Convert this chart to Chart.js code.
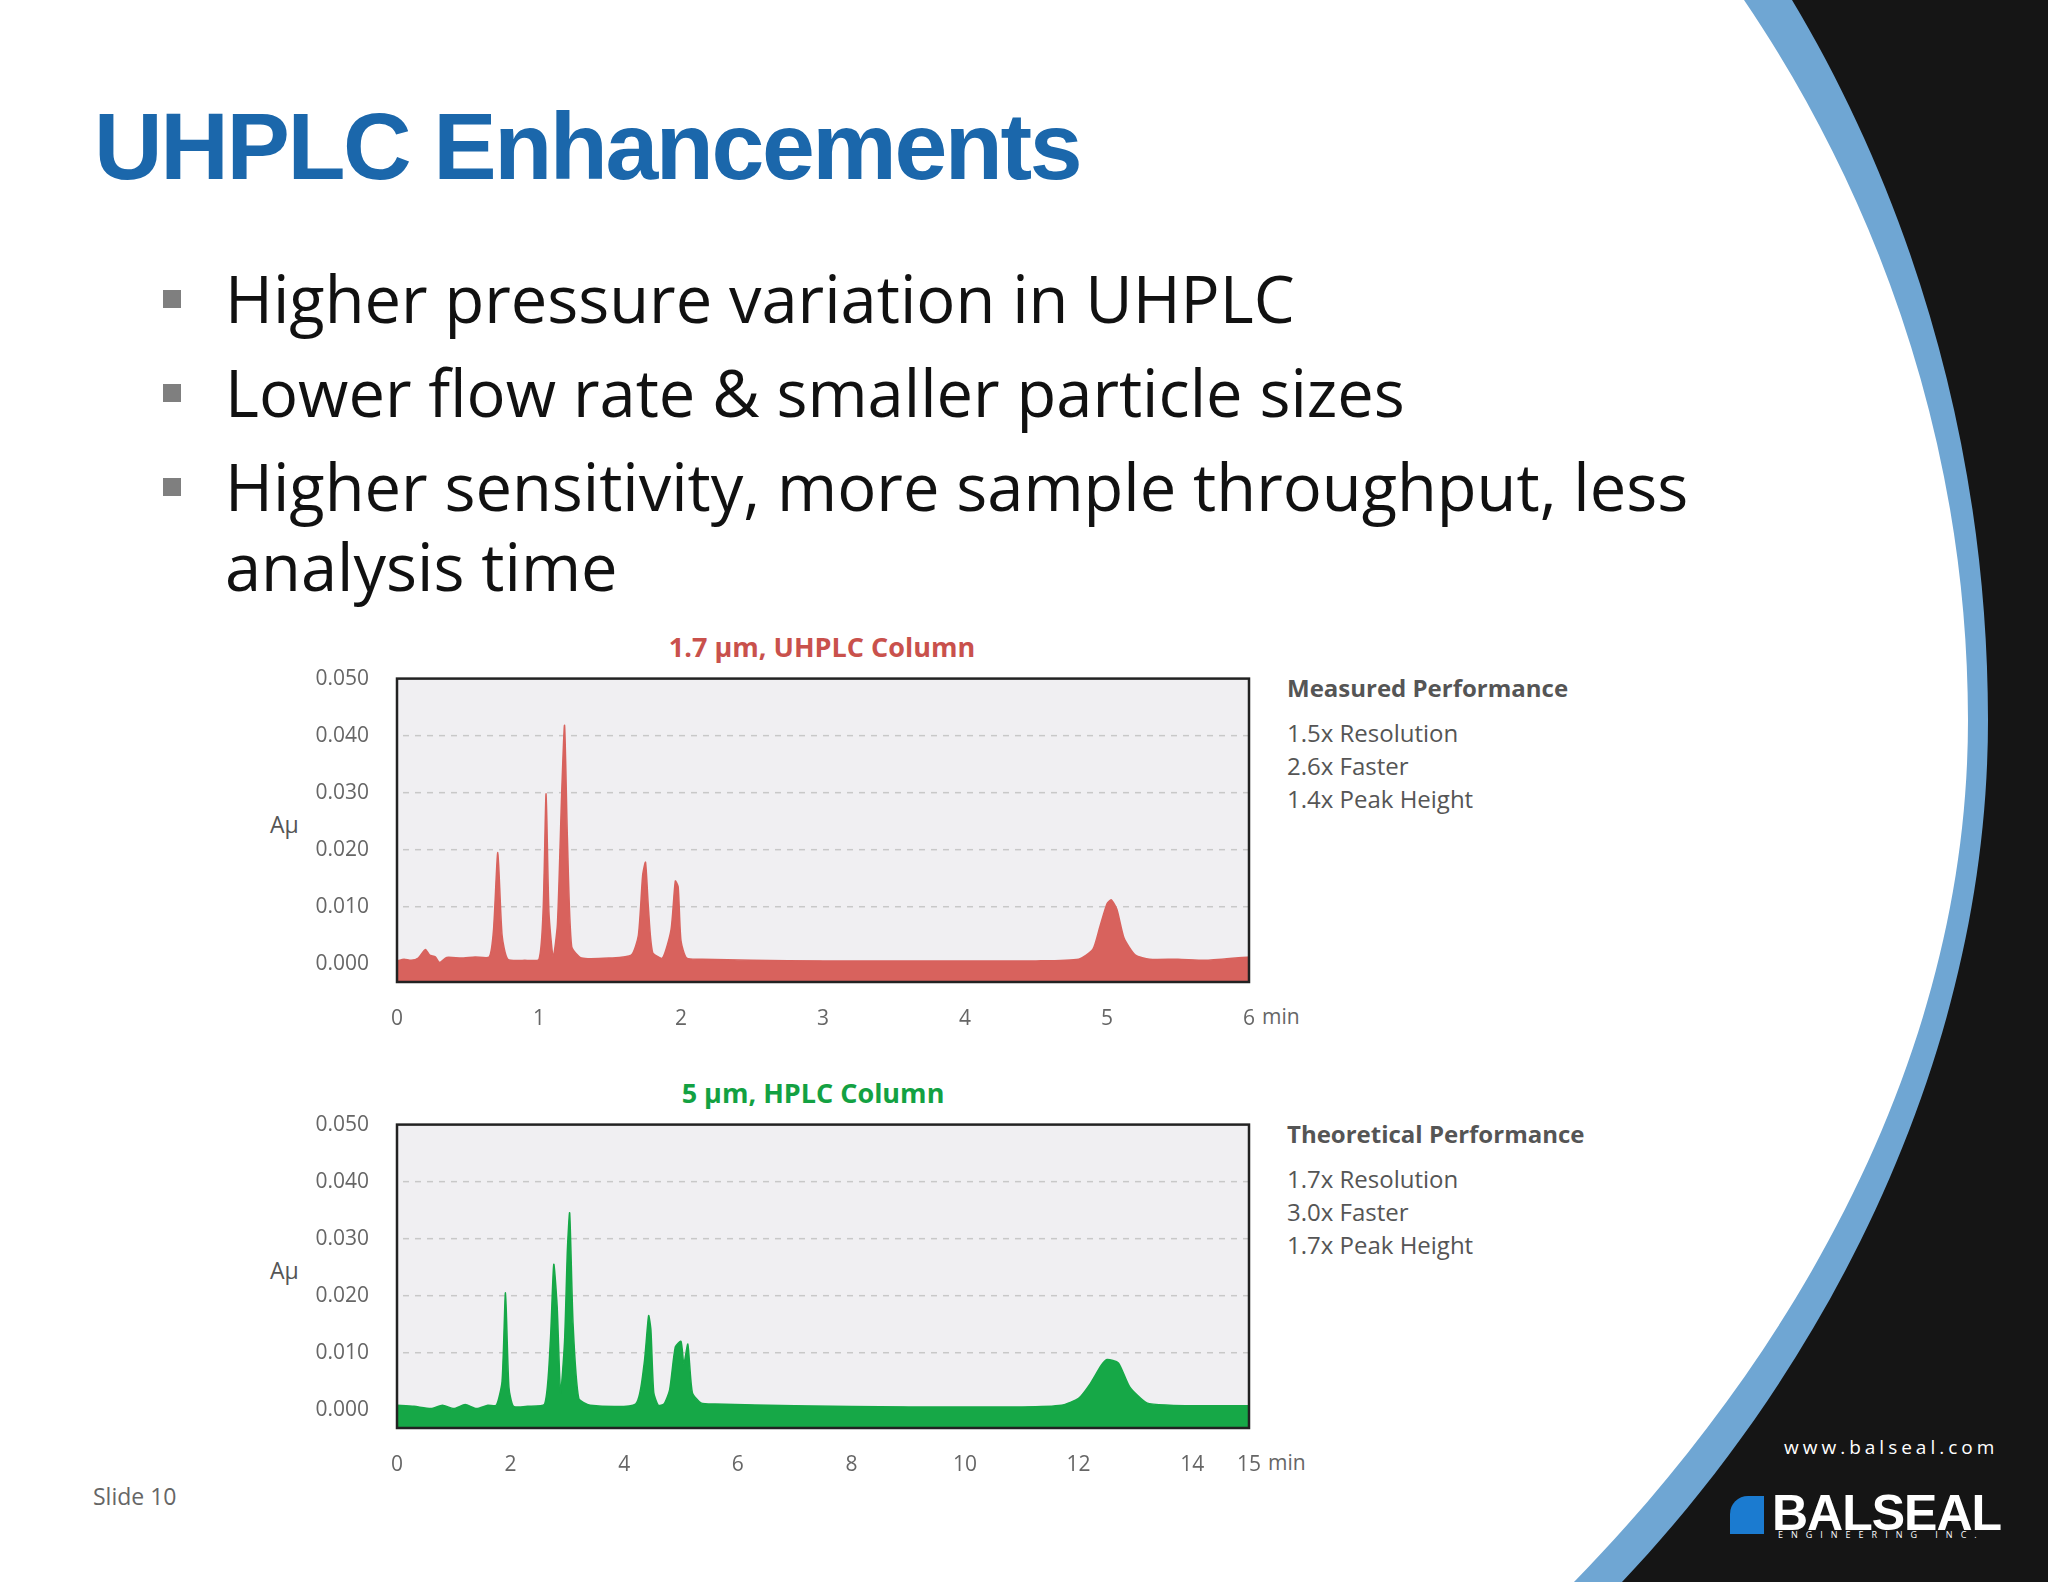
<!DOCTYPE html>
<html>
<head>
<meta charset="utf-8">
<script src="https://cdn.jsdelivr.net/npm/chart.js@4"></script>
<style>
body { margin:0; width:2048px; height:1582px; background:#fff; overflow:hidden; position:relative; font-family:"Open Sans", sans-serif; }
.abs { position:absolute; white-space:nowrap; }
#title { left:94px; top:92px; font-family:"Liberation Sans", Arial, sans-serif; font-weight:bold; font-size:95px; color:#1b67ab; letter-spacing:-2.4px; }
.bullet { left:225px; font-size:65px; color:#111; line-height:80px; }
.sq { position:absolute; left:-62px; top:32px; width:18px; height:18px; background:#7f7f7f; }
.ctitle { font-weight:bold; font-size:27px; transform:translateX(-50%); }
.side { left:1287px; font-size:24px; color:#555; line-height:33px; }
.side b { color:#555; display:block; margin-bottom:12px; }
.au { left:270px; font-size:23px; color:#555; }
.unit { font-size:21px; color:#666; }
canvas { position:absolute; }
</style>
</head>
<body>
<svg class="abs" style="left:0;top:0" width="2048" height="1582">
  <path d="M1744,0 C1880,200 1968,450 1968,720 C1968,1050 1800,1350 1574,1582 L2048,1582 L2048,0 Z" fill="#6fa6d3"/>
  <path d="M1792,0 C1912,200 1988,450 1988,720 C1988,1050 1832,1360 1622,1582 L2048,1582 L2048,0 Z" fill="#151515"/>
</svg>
<div id="title" class="abs">UHPLC Enhancements</div>
<div class="abs bullet" style="top:258px"><span class="sq"></span>Higher pressure variation in UHPLC</div>
<div class="abs bullet" style="top:352px"><span class="sq"></span>Lower flow rate &amp; smaller particle sizes</div>
<div class="abs bullet" style="top:446px"><span class="sq"></span>Higher sensitivity, more sample throughput, less<br>analysis time</div>

<div class="abs ctitle" style="left:822px;top:628px;color:#c9514c">1.7 µm, UHPLC Column</div>
<div class="abs ctitle" style="left:813px;top:1074px;color:#13a142">5 µm, HPLC Column</div>
<div class="abs au" style="top:808px">Aµ</div>
<div class="abs au" style="top:1254px">Aµ</div>
<div class="abs unit" style="left:1262px;top:1002px">min</div>
<div class="abs unit" style="left:1268px;top:1448px">min</div>
<div class="abs side" style="top:671px"><b>Measured Performance</b>1.5x Resolution<br>2.6x Faster<br>1.4x Peak Height</div>
<div class="abs side" style="top:1117px"><b>Theoretical Performance</b>1.7x Resolution<br>3.0x Faster<br>1.7x Peak Height</div>
<div class="abs" style="left:93px;top:1480px;font-size:23px;color:#666">Slide 10</div>
<div class="abs" style="left:1784px;top:1434px;font-size:19px;color:#fff;letter-spacing:4px">www.balseal.com</div>
<div class="abs" style="left:1730px;top:1496px;width:34px;height:38px;background:#1b7bd0;border-radius:18px 0 0 0"></div>
<div class="abs" style="left:1772px;top:1484px;font-family:'Liberation Sans',sans-serif;font-weight:bold;font-size:50px;color:#fff;letter-spacing:-1px">BALSEAL</div>
<div class="abs" style="left:1778px;top:1528px;font-size:9px;color:#fff;letter-spacing:8px">ENGINEERING INC.</div>

<canvas id="c1" style="left:290px;top:646px"></canvas>
<canvas id="c2" style="left:290px;top:1092px"></canvas>
<script>
// 1.7 um UHPLC trace (min, AU)
const time1 = [0, 0.05, 0.1, 0.15, 0.2, 0.23, 0.27, 0.3, 0.35, 0.45, 0.55, 0.65,
  0.68, 0.71, 0.74, 0.78, 0.9, 1.0, 1.03, 1.05, 1.07, 1.1, 1.13, 1.16, 1.18, 1.2, 1.23,
  1.3, 1.5, 1.65, 1.7, 1.73, 1.75, 1.77, 1.8, 1.87, 1.93, 1.96, 1.98, 2.0, 2.04, 2.15,
  2.5, 3.0, 3.5, 4.0, 4.5, 4.8, 4.9, 4.95, 5.0, 5.03, 5.07, 5.12, 5.2, 5.3, 5.5, 5.7, 6.0];
const abs1 = [0.0005, 0.0008, 0.0006, 0.001, 0.0025, 0.0015, 0.0012, 0.0002, 0.0011, 0.001, 0.0012, 0.0012,
  0.006, 0.0195, 0.005, 0.0008, 0.0006, 0.0008, 0.01, 0.0298, 0.009, 0.0012, 0.007, 0.03, 0.0418, 0.022, 0.003,
  0.001, 0.001, 0.0015, 0.005, 0.0155, 0.0178, 0.01, 0.002, 0.001, 0.006, 0.0145, 0.0135, 0.004, 0.001, 0.0008,
  0.0006, 0.0005, 0.0005, 0.0005, 0.0005, 0.0008, 0.0025, 0.0065, 0.0105, 0.0112, 0.0095, 0.0045, 0.0015, 0.0008, 0.0008, 0.0006, 0.0012];
const ticksX1 = [0, 1, 2, 3, 4, 5, 6];

// 5 um HPLC trace
const time2 = [0, 0.3, 0.6, 0.8, 1.0, 1.2, 1.4, 1.6, 1.75, 1.85, 1.91, 1.97, 2.05, 2.3,
  2.6, 2.7, 2.76, 2.82, 2.88, 2.95, 3.0, 3.04, 3.1, 3.2, 3.4, 4.2, 4.35, 4.43, 4.47, 4.52,
  4.6, 4.7, 4.8, 4.9, 5.0, 5.05, 5.12, 5.2, 5.35, 5.6, 7.0, 9.0, 11.0, 11.7, 12.0, 12.2,
  12.4, 12.5, 12.7, 12.9, 13.2, 13.6, 14.0, 15.0];
const abs2 = [0.0008, 0.0006, 0.0002, 0.0008, 0.0002, 0.0009, 0.0002, 0.0008, 0.0008, 0.005, 0.0205, 0.004, 0.0006, 0.0006,
  0.001, 0.012, 0.0255, 0.018, 0.003, 0.012, 0.028, 0.0345, 0.015, 0.002, 0.0008, 0.001, 0.008, 0.0165, 0.014, 0.003,
  0.0008, 0.001, 0.0035, 0.011, 0.012, 0.008, 0.0115, 0.003, 0.0012, 0.001, 0.0007, 0.0005, 0.0005, 0.0008, 0.002, 0.0045,
  0.0078, 0.0088, 0.0082, 0.004, 0.0012, 0.0008, 0.0007, 0.0007];
const ticksX2 = [0, 2, 4, 6, 8, 10, 12, 14, 15];

const ticksY = [0, 0.01, 0.02, 0.03, 0.04, 0.05];

const frame = {
  id: 'frame',
  beforeDatasetsDraw(chart) {
    const a = chart.chartArea, ctx = chart.ctx;
    ctx.save();
    ctx.fillStyle = '#f0eff2';
    ctx.fillRect(a.left, a.top, a.right - a.left, a.bottom - a.top);
    ctx.strokeStyle = '#c8c8c8';
    ctx.setLineDash([6, 6]);
    ctx.lineWidth = 1.5;
    const y = chart.scales.y;
    [0.01, 0.02, 0.03, 0.04].forEach(v => {
      const py = y.getPixelForValue(v);
      ctx.beginPath(); ctx.moveTo(a.left + 6, py); ctx.lineTo(a.right, py); ctx.stroke();
    });
    ctx.restore();
  },
  afterDraw(chart) {
    const a = chart.chartArea, ctx = chart.ctx;
    ctx.save();
    ctx.strokeStyle = '#222';
    ctx.lineWidth = 2.5;
    ctx.strokeRect(a.left, a.top, a.right - a.left, a.bottom - a.top);
    ctx.restore();
  }
};

function makeChart(id, xs, ys, xmax, xticks, color) {
  const c = document.getElementById(id);
  c.width = 1000; c.height = 386;
  c.style.width = '1000px'; c.style.height = '386px';
  return new Chart(c, {
    type: 'scatter',
    data: { datasets: [{
      data: xs.map((x, i) => ({ x: x, y: ys[i] })),
      showLine: true, pointRadius: 0, borderWidth: 1.5, tension: 0.2,
      borderColor: color, backgroundColor: color, fill: 'start'
    }] },
    options: {
      responsive: false, animation: false,
      layout: { padding: { top: 4, right: 41, left: 0, bottom: 0 } },
      plugins: { legend: { display: false }, tooltip: { enabled: false } },
      scales: {
        x: {
          type: 'linear', min: 0, max: xmax,
          grid: { display: false }, border: { display: false },
          afterBuildTicks: s => { s.ticks = xticks.map(v => ({ value: v })); },
          afterFit: s => { s.height = 50; },
          ticks: { color: '#666', padding: 16, maxRotation: 0, autoSkip: false,
            font: { family: 'Open Sans', size: 21 }, callback: v => String(v) }
        },
        y: {
          min: -0.0032, max: 0.05,
          grid: { display: false }, border: { display: false },
          afterBuildTicks: s => { s.ticks = ticksY.map(v => ({ value: v })); },
          afterFit: s => { s.width = 107; },
          ticks: { color: '#666', padding: 20, font: { family: 'Open Sans', size: 21 },
            callback: v => v.toFixed(3) }
        }
      }
    },
    plugins: [frame]
  });
}

makeChart('c1', time1, abs1, 6, ticksX1, '#d8625d');
makeChart('c2', time2, abs2, 15, ticksX2, '#16a847');
</script>
</body>
</html>
